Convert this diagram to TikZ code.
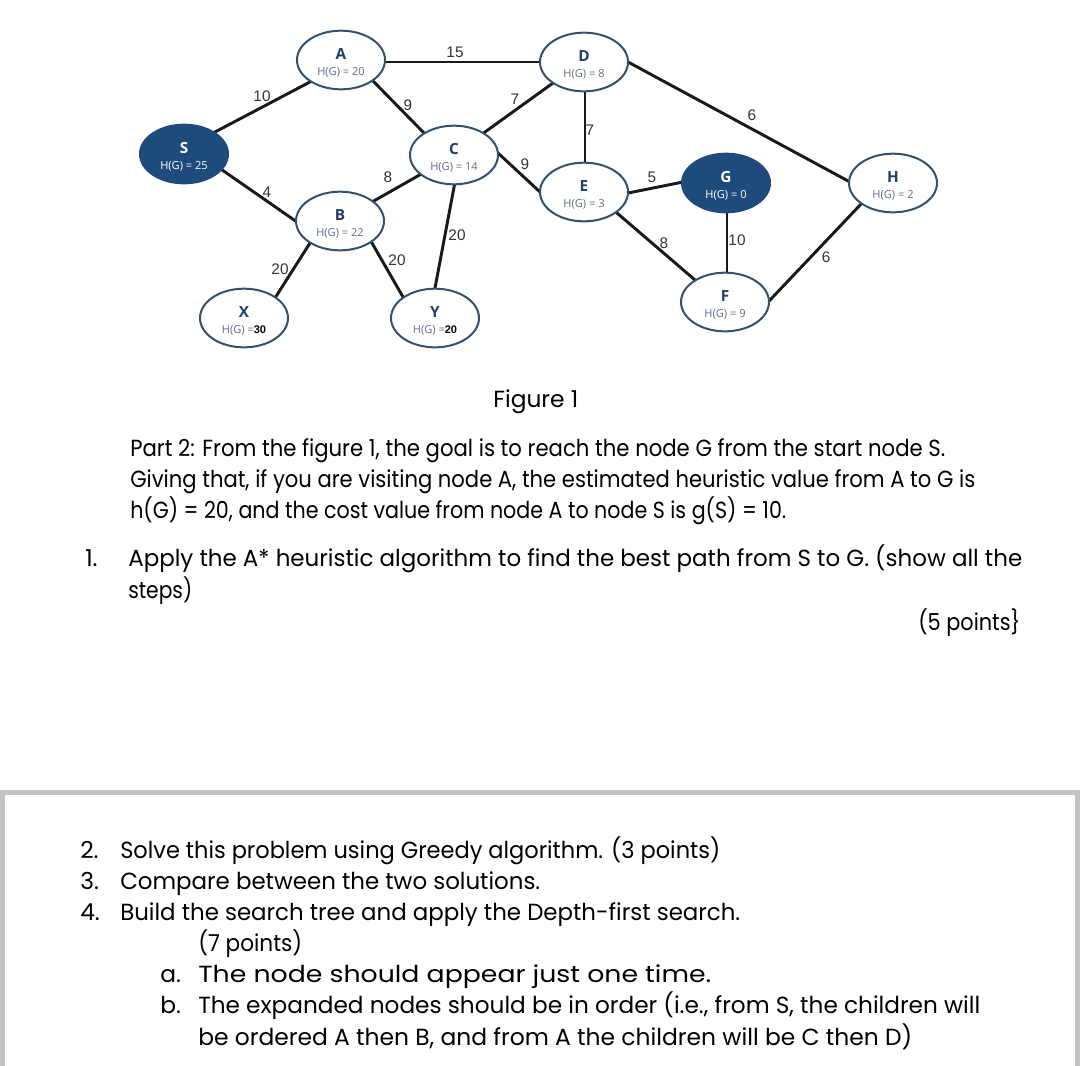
\documentclass[tikz,border=0pt]{standalone}
\usepackage{fontspec}
\setmainfont{Poppins}
\newfontfamily\gfont{Open Sans}
\newfontfamily\efont{Liberation Sans}
\usetikzlibrary{shapes.geometric}
\pgfdeclarelayer{background}
\pgfsetlayers{background,main}
\definecolor{navy}{HTML}{1F4A7C}
\definecolor{rim}{HTML}{34506E}
\definecolor{ntext}{HTML}{243F66}
\definecolor{htext}{HTML}{5F6F86}
\definecolor{framegray}{HTML}{C3C3C3}
\newcommand\fitw[2]{\resizebox{#1}{\height}{#2}}
\begin{document}
\begin{tikzpicture}[x=0.75pt,y=-0.75pt,
  gnode/.style={ellipse, draw=rim, line width=1.5pt, minimum width=66pt, minimum height=44pt, inner sep=0pt, fill=white},
  dnode/.style={gnode, fill=navy, draw=navy},
  ltr/.style={font=\gfont\fontsize{11.5}{12}\selectfont\bfseries, inner sep=0pt},
  hgt/.style={font=\gfont\fontsize{8.3}{9}\selectfont, inner sep=0pt},
  wl/.style 2 args={label={[ltr, text=ntext, yshift=4.5pt]center:#1}, label={[hgt, text=htext, yshift=-9.4pt]center:H(G) = #2}},
  dl/.style 2 args={label={[ltr, text=white, yshift=4.5pt]center:#1}, label={[hgt, text=white, yshift=-9.4pt]center:H(G) = #2}},
  xl/.style 2 args={label={[ltr, text=ntext, yshift=4.5pt]center:#1}, label={[hgt, text=htext, yshift=-9.4pt]center:H(G) =\textcolor{black}{\efont\bfseries #2}}},
  edge/.style={line width=2.2pt, black!90, shorten <=-6pt, shorten >=-6pt},
  elbl/.style={font=\efont\fontsize{11.5}{12}\selectfont, text=black!80, inner sep=0pt},
  body/.style={anchor=base west, inner sep=0pt, font=\fontsize{17.5}{20}\selectfont},
]
\useasboundingbox (0,0) rectangle (1080,1065);
\begin{pgfonlayer}{background}
\fill[white] (0,0) rectangle (1080,1065);
\end{pgfonlayer}

% graph nodes
\node[gnode, wl={A}{20}] (A) at (341,60) {};
\node[gnode, wl={D}{8}] (D) at (584,62) {};
\node[dnode, dl={S}{25}] (S) at (184,154) {};
\node[gnode, wl={C}{14}] (C) at (454,155) {};
\node[gnode, wl={E}{3}] (E) at (584,192) {};
\node[dnode, dl={G}{0}] (G) at (726,183) {};
\node[gnode, wl={H}{2}] (H) at (893,183) {};
\node[gnode, wl={B}{22}] (B) at (340,221) {};
\node[gnode, xl={X}{30}] (X) at (244,318) {};
\node[gnode, xl={Y}{20}] (Y) at (435,318) {};
\node[gnode, wl={F}{9}] (F) at (725,302) {};

% edges (behind the nodes)
\begin{pgfonlayer}{background}
\draw[edge] ([shift={(31,-22)}]S.center) -- ([shift={(-33,23)}]A.center);
\draw[edge] ([shift={(31,11)}]S.center) -- ([shift={(-43,1)}]B.center);
\draw[edge] ([shift={(44,2)}]A.center) -- ([shift={(-44,0)}]D.center);
\draw[edge] ([shift={(34,23)}]A.center) -- ([shift={(-31,-23)}]C.center);
\draw[edge] ([shift={(32,-19)}]B.center) -- ([shift={(-31,18)}]C.center);
\draw[edge] ([shift={(31,-23)}]C.center) -- ([shift={(-31,21)}]D.center);
\draw[edge] ([shift={(44,-2)}]C.center) -- ([shift={(-44,0)}]E.center);
\draw[edge] ([shift={(1,27)}]C.center) -- ([shift={(0,-30)}]Y.center);
\draw[edge] ([shift={(1,30)}]D.center) -- ([shift={(1,-29)}]E.center);
\draw[edge] ([shift={(44,0)}]D.center) -- ([shift={(-43,-1)}]H.center);
\draw[edge] ([shift={(44,1)}]E.center) -- ([shift={(-43,-1)}]G.center);
\draw[edge] ([shift={(-30,22)}]B.center) -- ([shift={(31,-20)}]X.center);
\draw[edge] ([shift={(32,22)}]B.center) -- ([shift={(-32,-21)}]Y.center);
\draw[edge] ([shift={(33,21)}]E.center) -- ([shift={(-30,-22)}]F.center);
\draw[edge] ([shift={(1,27)}]G.center) -- ([shift={(2,-30)}]F.center);
\draw[edge] ([shift={(-31,20)}]H.center) -- ([shift={(45,-2)}]F.center);
\end{pgfonlayer}

% edge labels
\node[elbl] (lSA) at (262,96) {10};
\node[elbl] (lAD) at (455,52) {15};
\node[elbl] (lAC) at (408,105) {9};
\node[elbl] (lCD) at (515,99) {7};
\node[elbl] (lDE) at (590,130) {7};
\node[elbl] (lDH) at (752,115) {6};
\node[elbl] (lSB) at (267,192) {4};
\node[elbl] (lBC) at (388,177) {8};
\node[elbl] (lCE) at (525,164) {9};
\node[elbl] (lEG) at (652,177) {5};
\node[elbl] (lCY) at (457,235) {20};
\node[elbl] (lBX) at (280,269) {20};
\node[elbl] (lBY) at (397,260) {20};
\node[elbl] (lEF) at (664,243) {8};
\node[elbl] (lGF) at (737,240) {10};
\node[elbl] (lHF) at (826,257) {6};

% body text
\node[body] (fig) at (493,407) {\fitw{63.75pt}{Figure 1}};
\node[body] (p1) at (130,456) {\fitw{611.25pt}{Part 2: From the figure 1, the goal is to reach the node G from the start node S.}};
\node[body] (p2) at (130,487) {\fitw{633.75pt}{Giving that, if you are visiting node A, the estimated heuristic value from A to G is}};
\node[body] (p3) at (130,518) {\fitw{492pt}{h(G) = 20, and the cost value from node A to node S is g(S) = 10.}};
\node[body] (n1) at (85,566) {1.};
\node[body] (q1a) at (128,566) {\fitw{670.5pt}{Apply the A* heuristic algorithm to find the best path from S to G. (show all the}};
\node[body] (q1b) at (128,598) {\fitw{48pt}{steps)}};
\node[body] (q1c) at (918,630) {\fitw{76.5pt}{(5 points\}}};

% frame
\draw[framegray, line width=3.6pt] (2.5,1075) -- (2.5,792.5) -- (1077.5,792.5) -- (1077.5,1075);

\node[body] (n2) at (80,858) {2.};
\node[body] (q2) at (120,858) {\fitw{450pt}{Solve this problem using Greedy algorithm. (3 points)}};
\node[body] (n3) at (80,889) {3.};
\node[body] (q3) at (120,889) {\fitw{315pt}{Compare between the two solutions.}};
\node[body] (n4) at (80,920) {4.};
\node[body] (q4) at (120,920) {\fitw{465pt}{Build the search tree and apply the Depth-first search.}};
\node[body] (q4p) at (198,951) {\fitw{78pt}{(7 points)}};
\node[body] (na) at (160,982) {a.};
\node[body] (qa) at (198,982) {\fitw{384.75pt}{The node should appear just one time.}};
\node[body] (nb) at (160,1013) {b.};
\node[body] (qb) at (198,1013) {\fitw{586.5pt}{The expanded nodes should be in order (i.e., from S, the children will}};
\node[body] (qc) at (198,1045) {\fitw{535.5pt}{be ordered A then B, and from A the children will be C then D)}};
\end{tikzpicture}
\end{document}
